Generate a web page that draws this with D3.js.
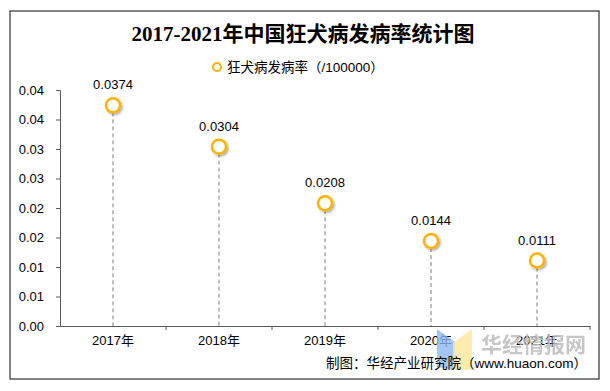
<!DOCTYPE html>
<html><head><meta charset="utf-8">
<script src="https://cdn.jsdelivr.net/npm/d3@7"></script>
<style>body{margin:0;background:#fff}svg{display:block}</style>
</head><body>
<script>
const categories = ["2017年","2018年","2019年","2020年","2021年"];
const values = [0.0374, 0.0304, 0.0208, 0.0144, 0.0111];
const valueLabels = ["0.0374","0.0304","0.0208","0.0144","0.0111"];
const yTicks = [0,0.005,0.01,0.015,0.02,0.025,0.03,0.035,0.04];
const yTickLabels = ["0.00","0.01","0.01","0.02","0.02","0.03","0.03","0.04","0.04"];
const title = "2017-2021年中国狂犬病发病率统计图";
const legendLabel = "狂犬病发病率（/100000）";
const sourceText = "制图：华经产业研究院（www.huaon.com）";
const watermark = "华经情报网";

const W = 610, H = 391;
const svg = d3.select("body").append("svg").attr("width", W).attr("height", H);
const defs = svg.append("defs");
const f = defs.append("filter").attr("id","sh").attr("x","-50%").attr("y","-50%").attr("width","200%").attr("height","200%");
f.append("feDropShadow").attr("dx",1.5).attr("dy",1.5).attr("stdDeviation",1.2).attr("flood-color","#000").attr("flood-opacity",0.35);

svg.append("rect").attr("x",10).attr("y",11).attr("width",589).attr("height",368)
  .attr("fill","#fff").attr("stroke","#404040").attr("stroke-width",1.3);

const sans = "Arial, 'Liberation Sans', 'Noto Sans CJK SC', sans-serif";

svg.append("text").attr("x",303).attr("y",41).attr("text-anchor","middle")
  .attr("font-family","'Liberation Serif','Noto Sans CJK SC',serif").attr("font-weight","bold")
  .attr("font-size",21).attr("fill","#000").text(title);

// legend
svg.append("circle").attr("cx",217).attr("cy",67).attr("r",4).attr("fill","#fff")
  .attr("stroke","#FFB300").attr("stroke-width",2.2);
svg.append("text").attr("x",227).attr("y",72).attr("font-family",sans).attr("font-size",13.5)
  .attr("fill","#000").text(legendLabel);

const x = d3.scaleBand().domain(categories).range([60,590]).padding(0);
const y = d3.scaleLinear().domain([0,0.04]).range([326,90]);

// y axis
const ya = svg.append("g").attr("transform","translate(60,0)")
  .call(d3.axisLeft(y).tickValues(yTicks).tickSize(4).tickPadding(12)
    .tickFormat((d,i)=>yTickLabels[i]));
ya.select(".domain").attr("stroke","#595959");
ya.selectAll(".tick line").attr("stroke","#595959");
ya.selectAll("text").attr("font-family",sans).attr("font-size",13).attr("fill","#000");

// x axis
const xa = svg.append("g").attr("transform","translate(0,326)")
  .call(d3.axisBottom(x).tickSize(0).tickPadding(10).tickSizeOuter(0));
xa.select(".domain").attr("stroke","#595959");
xa.selectAll("text").attr("font-family",sans).attr("font-size",13).attr("fill","#000");
svg.append("g").selectAll("line").data(categories).join("line")
  .attr("x1",d=>x(d)+x.bandwidth()).attr("x2",d=>x(d)+x.bandwidth())
  .attr("y1",326).attr("y2",330).attr("stroke","#595959");

// watermark logo + text
svg.append("polygon").attr("points","437,329 455,342 455,370 437,367")
  .attr("fill","#8fb8f2").attr("opacity",0.8);
svg.append("polygon").attr("points","453,343 472,329 472,370 453,370")
  .attr("fill","#fde79a").attr("opacity",0.8);
svg.append("text").attr("x",586).attr("y",352).attr("text-anchor","end")
  .attr("font-family","'Noto Sans CJK SC',sans-serif").attr("font-weight","bold")
  .attr("font-size",21).attr("fill","#bdbdbd").attr("opacity",0.85).text(watermark);

// drop lines
const pts = categories.map((c,i)=>({c, v:values[i], l:valueLabels[i]}));
svg.append("g").selectAll("line").data(pts).join("line")
  .attr("x1",d=>x(d.c)+x.bandwidth()/2).attr("x2",d=>x(d.c)+x.bandwidth()/2)
  .attr("y1",d=>y(d.v)).attr("y2",326)
  .attr("stroke","#7f7f7f").attr("stroke-width",1).attr("stroke-dasharray","4,3");

svg.append("g").selectAll("circle").data(pts).join("circle")
  .attr("cx",d=>x(d.c)+x.bandwidth()/2).attr("cy",d=>y(d.v)).attr("r",7)
  .attr("fill","#fff").attr("stroke","#FFB300").attr("stroke-width",2.5)
  .attr("filter","url(#sh)");

svg.append("g").selectAll("text").data(pts).join("text")
  .attr("x",d=>x(d.c)+x.bandwidth()/2).attr("y",d=>y(d.v)-16)
  .attr("text-anchor","middle").attr("font-family",sans).attr("font-size",13)
  .attr("fill","#000").text(d=>d.l);

// source
svg.append("text").attr("x",587).attr("y",368).attr("text-anchor","end")
  .attr("font-family",sans).attr("font-size",13.5).attr("fill","#000").text(sourceText);
</script>
</body></html>
